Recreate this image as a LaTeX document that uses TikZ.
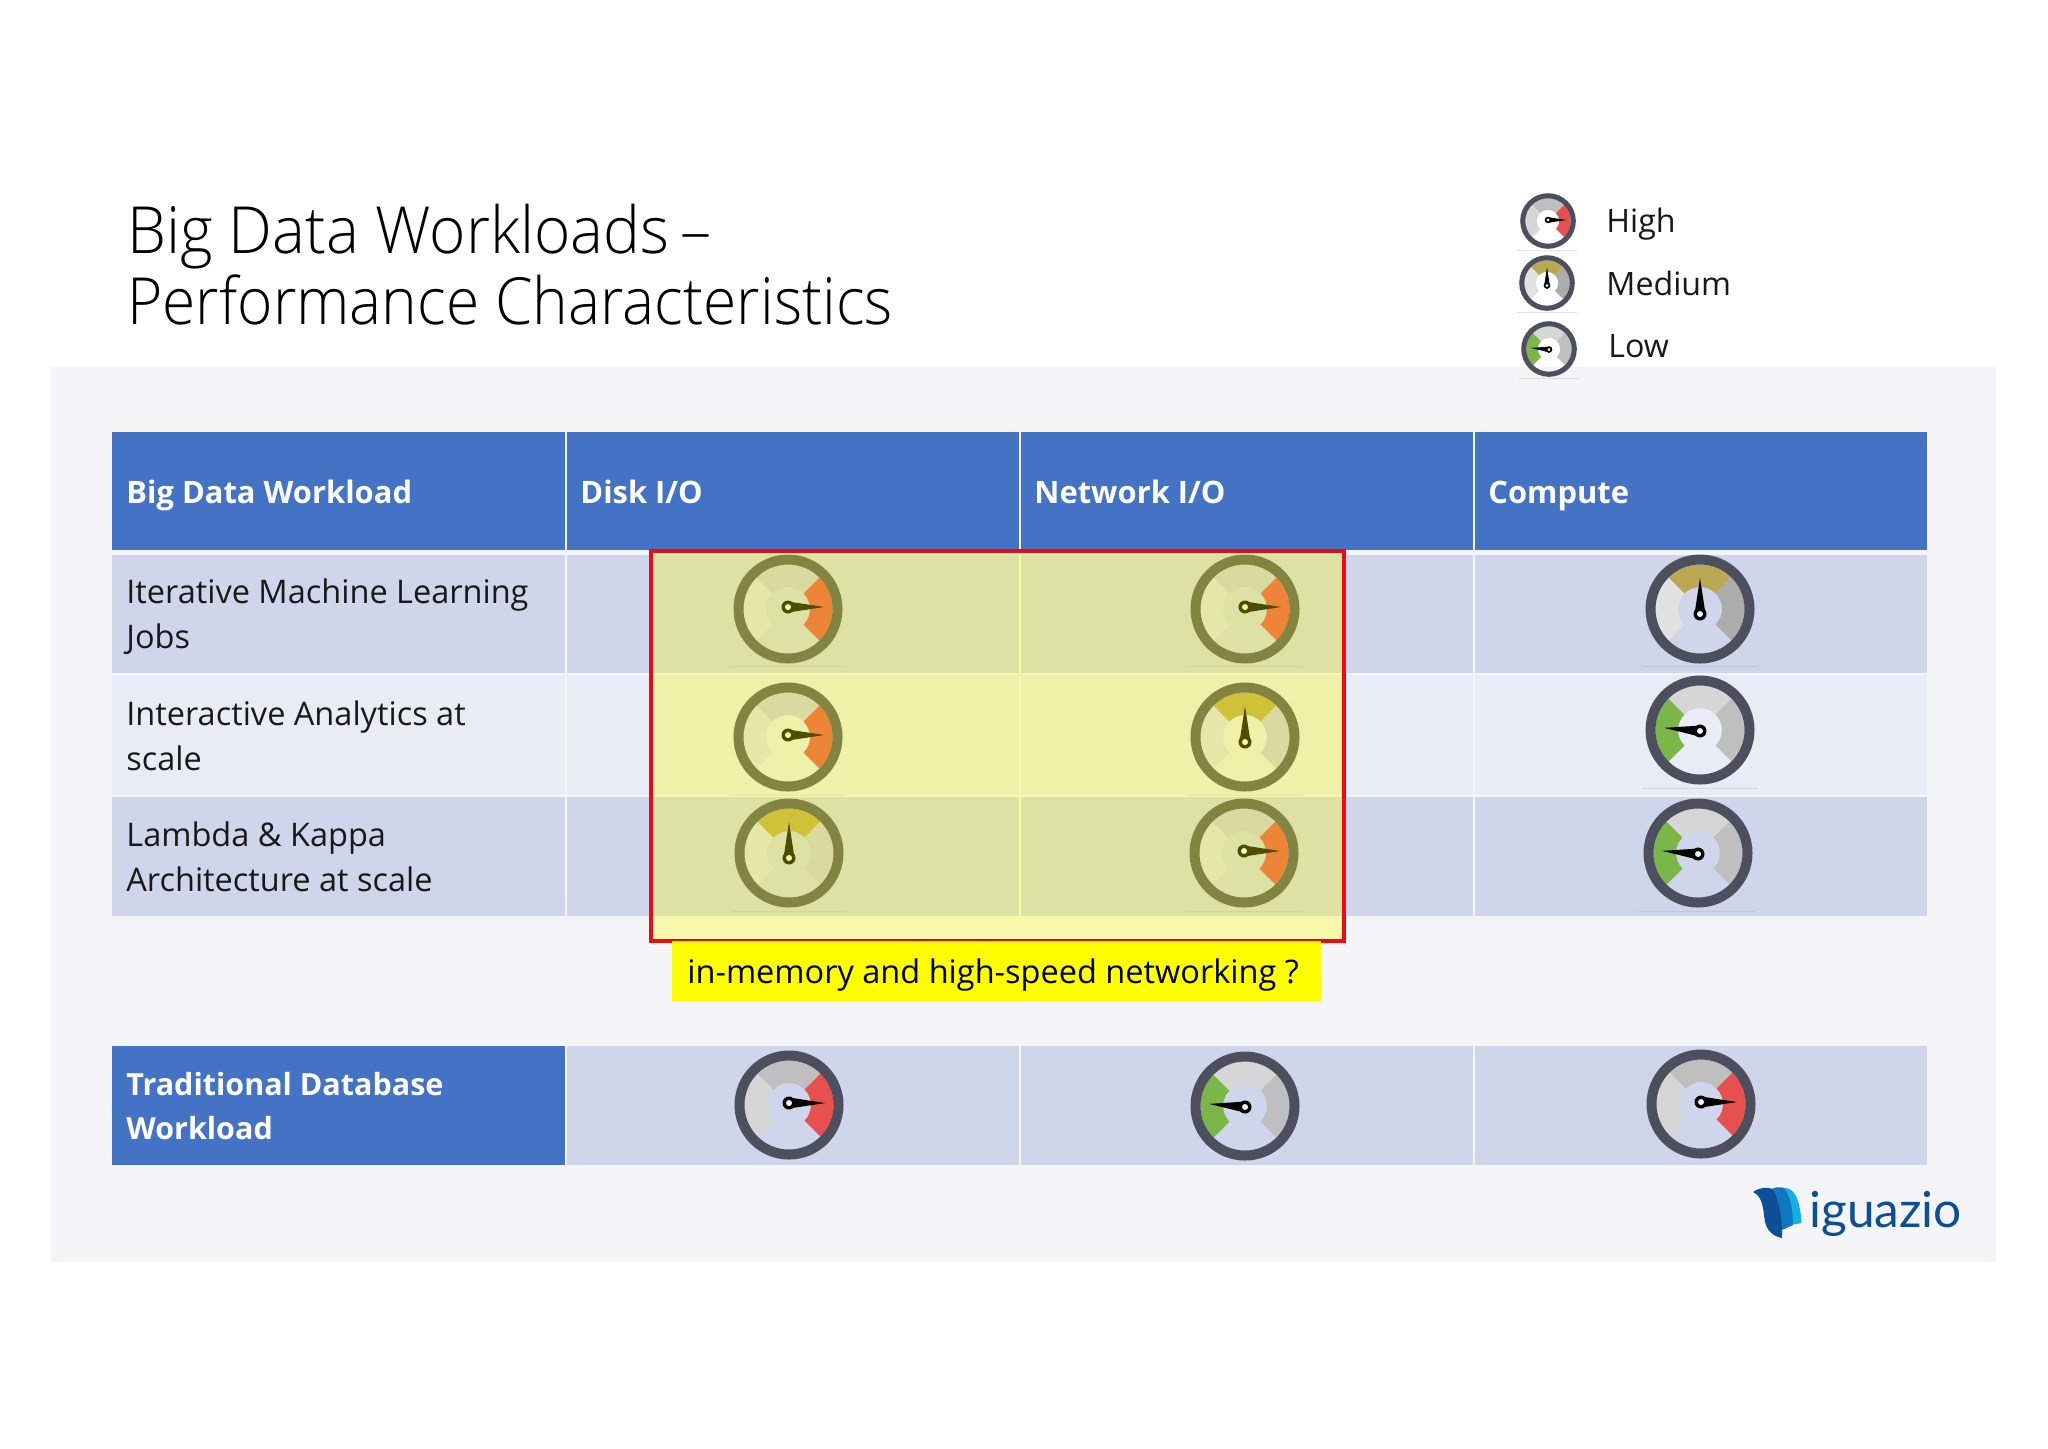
\documentclass[tikz,border=0pt]{standalone}
\usepackage{fontspec}
\setmainfont{Open Sans}
\newfontfamily\lightfont[FakeStretch=0.93]{Open Sans Light}
\newfontfamily\lightfontb[FakeStretch=0.955]{Open Sans Light}
\newfontfamily\logofont{Lato}
\definecolor{panel}{HTML}{F5F5F7}
\definecolor{hdr}{HTML}{4472C4}
\definecolor{rowa}{HTML}{CFD5EA}
\definecolor{rowb}{HTML}{E9EBF5}
\definecolor{ring}{HTML}{4E4F5E}
\definecolor{segA}{HTML}{D6D6D6}
\definecolor{segB}{HTML}{BFBFBF}
\definecolor{segAl}{HTML}{DCDCF2}
\definecolor{segBl}{HTML}{C9C9E6}
\definecolor{hi}{HTML}{E8504F}
\definecolor{mid}{HTML}{BBA853}
\definecolor{lo}{HTML}{7AB648}
\definecolor{redbox}{HTML}{EE0A14}
\definecolor{hilite}{RGB}{255,255,0}
\definecolor{logoA}{HTML}{0B4F96}
\definecolor{logoB}{HTML}{0F76C0}
\definecolor{logoC}{HTML}{14AEE2}
\newcommand{\sect}[3]{\fill[#3] (#1:44.5) arc[start angle=#1,end angle=#2,radius=44.5] -- (#2:22) arc[start angle=#2,end angle=#1,radius=22] -- cycle;}
% x y scale left top right angle hub-shift
\newcommand{\gauge}[8]{\begin{scope}[shift={(#1,#2)},yscale=-1,scale=#3]
\sect{135}{225}{#4}\sect{45}{135}{#5}\sect{-45}{45}{#6}
\draw[ring,line width=#3*5pt] (0,0) circle[radius=49.5];
\begin{scope}[shift={(0,#8)},rotate=-#7]
\fill[black] (0,5.5) -- (36,0) -- (0,-5.5) -- cycle;
\fill[black] (0,0) circle[radius=6.5];
\fill[hubhole] (0,0) circle[radius=3];
\end{scope}\end{scope}}
\colorlet{hubhole}{white!85!rowa}
\newcommand{\gHigh}[3]{\gauge{#1}{#2}{#3}{segA}{segB}{hi}{0}{2}}
\newcommand{\gHighL}[3]{\gauge{#1}{#2}{#3}{segAl}{segBl}{hi}{0}{2}}
\newcommand{\gMed}[3]{\gauge{#1}{#2}{#3}{segA!70!white}{mid}{segB!90!black}{90}{-5}}
\newcommand{\gMedL}[3]{\gauge{#1}{#2}{#3}{segAl}{mid}{segBl}{90}{-5}}
\newcommand{\gLow}[3]{\gauge{#1}{#2}{#3}{lo}{segA}{segB}{175}{-1}}
\newcommand{\cellbox}[5]{\fill[#5] (#1,#2) rectangle (#3,#4);}
\newcommand{\shadowline}[3]{\draw[black!30,opacity=.35,line width=.5pt] (#1-#3,#2) -- (#1+#3,#2);}
\tikzset{
 rowtxt/.style={anchor=west,align=left,inner sep=0pt,font=\fontsize{16.25}{22.4}\selectfont,text=black!90},
 hdrtxt/.style={anchor=base west,align=left,inner sep=0pt,font=\fontsize{15.45}{22}\selectfont\bfseries,text=white},
 lowtxt/.style={anchor=west,align=left,inner sep=0pt,font=\fontsize{15.25}{22.2}\selectfont\bfseries,text=white},
 legtxt/.style={anchor=base west,inner sep=0pt,font=\fontsize{16.1}{18}\selectfont,text=black!90},
}
\begin{document}
\begin{tikzpicture}[x=0.5pt,y=-0.5pt]
\useasboundingbox (0,0) rectangle (2048,1448);
\fill[white] (0,0) rectangle (2048,1448);
\fill[panel] (51,367) rectangle (1996,1262);
% title
\node[anchor=west,align=left,inner sep=0pt,font=\fontsize{32.5}{35.5}\selectfont\lightfont,text=black] (title) at (127,265) {{\lightfontb Big Data Workloads\,–}\\Performance Characteristics};
% legend
\gHigh{1548}{221}{.51}\gMed{1547}{283}{.51}\gLow{1549}{349}{.51}
\shadowline{1547}{250}{30}\shadowline{1547}{312}{30}\shadowline{1549}{378}{30}
\node[legtxt] (lh) at (1606,232) {High};
\node[legtxt] (lm) at (1606,295) {Medium};
\node[legtxt] (ll) at (1608,357) {Low};
% header
\cellbox{112}{432}{565}{550}{hdr}\cellbox{566.5}{432}{1019}{550}{hdr}\cellbox{1021}{432}{1473}{550}{hdr}\cellbox{1475}{432}{1927}{550}{hdr}
\node[hdrtxt] (h1) at (126,503) {Big Data Workload};
\node[hdrtxt] (h2) at (580,503) {Disk I/O};
\node[hdrtxt] (h3) at (1034,503) {Network I/O};
\node[hdrtxt] (h4) at (1488,503) {Compute};
% rows
\foreach \ya/\yb/\cc in {555/673/rowa,675/795/rowb,797/916/rowa,1046/1165/rowa}{
 \cellbox{112}{\ya}{565}{\yb}{\cc}\cellbox{566.5}{\ya}{1019}{\yb}{\cc}\cellbox{1021}{\ya}{1473}{\yb}{\cc}\cellbox{1475}{\ya}{1927}{\yb}{\cc}}
\cellbox{112}{1046}{565}{1165}{hdr}
\node[rowtxt] (r1) at (126,617) {Iterative Machine Learning\\Jobs};
\node[rowtxt] (r2) at (126,736) {Interactive Analytics at\\scale};
\node[rowtxt] (r3) at (126,857) {Lambda \& Kappa\\Architecture at scale};
\node[lowtxt] (r4) at (126,1106) {Traditional Database\\Workload};
% gauges
\gHighL{788}{609}{1}\gHighL{1245}{609}{1}\gMed{1700}{609}{1}
\gHighL{788}{737}{1}\gMedL{1245}{737}{1}\gLow{1700}{730}{1}
\gMedL{789}{853}{1}\gHighL{1244}{853}{1}\gLow{1698}{853}{1}
\gHigh{789}{1105}{1}\gLow{1245}{1106}{1}\gHigh{1701}{1104}{1}
\shadowline{787}{666}{58}\shadowline{1245}{666}{58}\shadowline{1700}{666}{58}
\shadowline{787}{795}{58}\shadowline{1245}{795}{58}\shadowline{1700}{788}{58}
\shadowline{789}{911}{58}\shadowline{1244}{911}{58}\shadowline{1697}{911}{58}
% highlight
\fill[hilite,opacity=.3] (651,551) rectangle (1344,941);
\draw[redbox,line width=2.4pt] (651,551) rectangle (1344,941);
\node[anchor=center,fill=hilite,inner sep=0pt,minimum width=649*.5pt,minimum height=60*.5pt] (note) at (996.5,971) {};
\node[anchor=base,inner sep=0pt,font=\fontsize{16.25}{18}\selectfont,text=black] (notetxt) at (993,983) {in-memory and high-speed networking ?};
% logo
\fill[logoC] (1783,1188) .. controls (1795,1187) and (1800,1200) .. (1801.5,1223) -- (1793,1224.5) -- cycle;
\fill[logoB] (1773,1188) .. controls (1777,1187) and (1781,1187) .. (1784,1188) .. controls (1790,1195) and (1793,1210) .. (1793,1225) -- (1782,1230) -- cycle;
\fill[logoA] (1753,1192) .. controls (1760,1187) and (1767,1187) .. (1773,1189) .. controls (1779,1200) and (1783,1222) .. (1782,1238) .. controls (1772,1236) and (1767,1230) .. (1765,1222) .. controls (1763,1212) and (1764,1197) .. (1753,1192) -- cycle;
\node[anchor=base west,inner sep=0pt,font=\fontsize{24.8}{25}\selectfont\logofont,text=logoA] (logo) at (1809,1227) {iguazio};
\end{tikzpicture}
\end{document}
